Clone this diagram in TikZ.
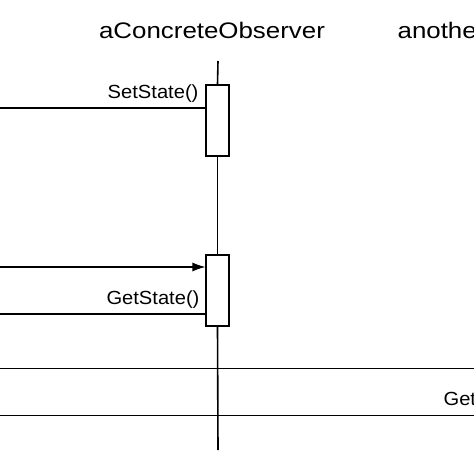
\documentclass[tikz,border=0pt]{standalone}
\usepackage{fontspec}
\setmainfont{Liberation Sans}
\usetikzlibrary{arrows.meta}

\begin{document}
\begin{tikzpicture}[x=1pt,y=-1pt,line width=1.1pt,
  title/.style={font=\fontsize{22.5}{26}\selectfont,xscale=1.15,inner sep=0},
  msg/.style={font=\fontsize{19}{22}\selectfont,xscale=1.06,inner sep=0},
  act/.style={draw,fill=white,minimum width=23pt,minimum height=71pt,inner sep=0},
  life/.style={line width=1.6pt}]
\useasboundingbox (0,0) rectangle (474,474);
\clip (0,0) rectangle (474,474);
\node[title,anchor=base] (obs)at(212,38){aConcreteObserver};
\node[title,anchor=base west] (obs2)at(397,38){anotherConcreteObserver};
\coordinate (top)at(218,61);
\coordinate (bot)at(218,450);
\node[act] (b1)at(217.5,120.5){};
\node[act] (b2)at(217.5,290.5){};
\draw[life] (top) to (b1.north);
\draw[life] (b1.south) to (b2.north);
\draw[life] (b2.south) to (bot);
\coordinate (s1)at(0,108);
\coordinate (s2)at(0,267);
\coordinate (s3)at(0,314);
\coordinate (h1)at(0,368);
\coordinate (h1e)at(474,368);
\coordinate (h2)at(0,415);
\coordinate (h2e)at(474,415);
\draw (s1) to (s1 -| b1.west);
\draw[-{Latex[length=13pt,width=9pt]}] (s2) to (s2 -| b2.west);
\draw (s3) to (s3 -| b2.west);
\draw[line width=0.9pt] (h1) to (h1e);
\draw[line width=0.9pt] (h2) to (h2e);
\node[msg,anchor=base east] (set)at(199,98){SetState()};
\node[msg,anchor=base east] (get)at(200,304){GetState()};
\node[msg,anchor=base west] (get2)at(443,405){GetState()};
\end{tikzpicture}
\end{document}
